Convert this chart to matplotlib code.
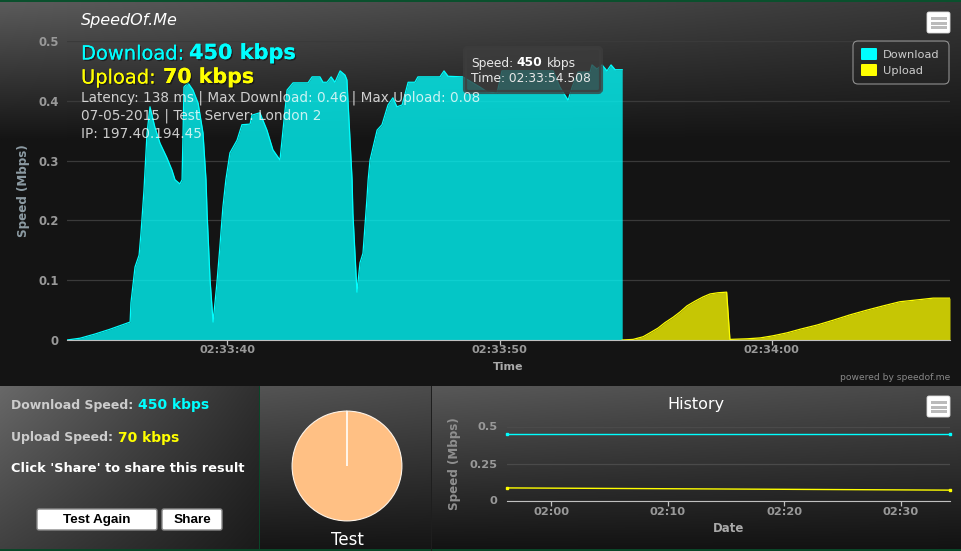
import numpy as np
import matplotlib
matplotlib.use("Agg")
import matplotlib.pyplot as plt
import matplotlib.patheffects as pe
from matplotlib.patches import FancyBboxPatch, Rectangle

W, H = 961, 551

# seconds after 02:33:00
down_t = [34.10, 34.58, 35.13, 35.68, 36.42, 36.45, 36.60, 36.75, 36.82, 36.93, 37.04, 37.15, 37.33, 37.52, 37.77,
          37.96, 38.07, 38.25, 38.33, 38.40, 38.55, 38.73, 38.92, 39.10, 39.21, 39.25, 39.36, 39.47, 39.61, 39.72,
          39.83, 39.94, 40.09, 40.35, 40.53, 40.83, 40.90, 41.19, 41.45, 41.67, 41.93, 42.04, 42.19, 42.41,
          42.96, 43.11, 43.40, 43.51, 43.66, 43.81, 43.95, 44.14, 44.32, 44.39, 44.58, 44.61, 44.76, 44.87,
          44.98, 45.13, 45.17, 45.24, 45.50, 45.68, 45.90, 46.08, 46.23, 46.42, 46.64, 46.89, 47.00, 47.81,
          47.96, 48.11, 48.65, 49.28, 49.54, 49.91, 50.09, 51.97, 52.22, 52.52, 52.67, 52.89, 53.33, 53.40, 53.58,
          53.77, 53.95, 54.10, 54.25, 54.51]
down_v = [0, .003, .010, .018, .030, .062, .122, .142, .179, .251, .345, .39, .356, .329, .305,
          .284, .268, .261, .268, .423, .43, .418, .396, .346, .268, .212, .10, .03, .095, .156,
          .222, .268, .313, .334, .36, .361, .376, .38, .351, .318, .301, .351, .418, .43,
          .43, .44, .44, .431, .431, .44, .431, .45, .443, .435, .268, .212, .08, .129,
          .145, .239, .268, .301, .351, .36, .393, .405, .39, .393, .431, .431, .44, .44,
          .45, .441, .44, .423, .415, .413, .45, .45, .423, .401, .423, .448, .448, .46, .453,
          .46, .45, .46, .452, .452]
up_t = [54.51, 54.91, 55.28, 55.53, 55.83, 56.08, 56.38, 56.64, 56.89, 57.19, 57.48, 57.74, 58.03, 58.35, 58.47,
        59.10, 59.58, 60.05, 60.57, 61.05, 61.67, 62.26, 62.88, 63.51, 64.10, 64.72, 65.34, 65.94, 66.56]
up_v = [0, .001, .0055, .012, .020, .029, .038, .047, .057, .065, .072, .077, .079, .08, .001,
        .002, .0035, .007, .012, .018, .025, .033, .042, .050, .057, .064, .067, .070, .070]
main_ticks = [40, 50, 60]
main_ticklabels = ["02:33:40", "02:33:50", "02:34:00"]
main_yticks = [0, 0.1, 0.2, 0.3, 0.4, 0.5]
main_ylabels = ["0", "0.1", "0.2", "0.3", "0.4", "0.5"]

# minutes after 00:00
hist_t = [116.2, 154.2]
hist_down = [0.45, 0.45]
hist_up = [0.085, 0.07]
hist_ticks = [120, 130, 140, 150]
hist_ticklabels = ["02:00", "02:10", "02:20", "02:30"]
hist_yticks = [0, 0.25, 0.5]
hist_ylabels = ["0", "0.25", "0.5"]

pie_vals = [99.95, 0.05]


def px_axes(fig, l, t, r, b, z=1):
    ax = fig.add_axes([l / W, 1 - b / H, (r - l) / W, (b - t) / H], zorder=z)
    ax.patch.set_alpha(0)
    return ax


def grad(img, x0, x1, y0, y1, c00, c10, c01, c11):
    # bilinear grey gradient, corners are tl, tr, bl, br
    u = np.linspace(0, 1, x1 - x0)[None, :]
    v = np.linspace(0, 1, y1 - y0)[:, None]
    img[y0:y1, x0:x1] = (c00 * (1 - u) * (1 - v) + c10 * u * (1 - v) + c01 * (1 - u) * v + c11 * u * v)[:, :, None] / 255


fig = plt.figure(figsize=(W / 100, H / 100), dpi=100)

# background
bg = np.full((H, W, 3), 20 / 255)
grad(bg, 0, W, 0, 140, 92, 56, 20, 20)
grad(bg, 0, 259, 386, H, 104, 48, 64, 26)
grad(bg, 260, 431, 386, H, 84, 76, 20, 20)
grad(bg, 432, W, 386, H, 88, 72, 18, 18)
bg[0:2, :] = np.array([10, 80, 45]) / 255
bg[H - 2:, :] = np.array([10, 70, 40]) / 255
bg[386:, 259] = np.array([10, 70, 40]) / 255
bg[386:, 431] = np.array([30, 30, 30]) / 255
ax_bg = fig.add_axes([0, 0, 1, 1], zorder=0)
ax_bg.imshow(bg, aspect="auto", extent=(0, W, H, 0), interpolation="nearest")
ax_bg.axis("off")

# main chart
ax = px_axes(fig, 67, 41, 950, 340)
ax.fill_between(down_t, down_v, color="#00ffff", alpha=0.76, lw=0, zorder=2)
ax.plot(down_t, down_v, color="#00ffff", lw=0.9, zorder=3)
ax.fill_between(up_t, up_v, color="#ffff00", alpha=0.76, lw=0, zorder=2)
ax.plot(up_t, up_v, color="#ffff00", lw=0.9, zorder=3)
ax.set_xlim(34.10, 66.56)
ax.set_ylim(0, 0.5)
ax.set_xticks(main_ticks, main_ticklabels)
ax.set_yticks(main_yticks, main_ylabels)
ax.grid(axis="y", color="#3a3a3a", lw=0.9, zorder=1)
ax.set_axisbelow(True)
for s in ["top", "left", "right"]:
    ax.spines[s].set_visible(False)
ax.spines["bottom"].set_color("#c0c0c0")
ax.spines["bottom"].set_zorder(4)
ax.tick_params(axis="x", colors="#c0c0c0", length=3.6, width=0.9, pad=0, labelcolor="#999999", labelsize=8.1)
ax.tick_params(axis="y", length=0, pad=6, labelcolor="#999999", labelsize=8.4)
for t in ax.get_xticklabels() + ax.get_yticklabels():
    t.set_fontweight("bold")
ax.set_xlabel("Time", color="#aaaaaa", fontsize=8, fontweight="bold", labelpad=5)
ax.set_ylabel("Speed (Mbps)", color="#8c9ba3", fontsize=8.6, fontweight="bold", labelpad=6)

# history chart
ax2 = px_axes(fig, 507, 426.5, 950, 500.5)
ax2.plot(hist_t, hist_down, color="#00ffff", lw=1, marker="s", ms=1.7, clip_on=False, zorder=3)
ax2.plot(hist_t, hist_up, color="#ffff00", lw=1, marker="s", ms=1.5, clip_on=False, zorder=3)
ax2.set_xlim(hist_t[0], hist_t[1])
ax2.set_ylim(0, 0.5)
ax2.set_xticks(hist_ticks, hist_ticklabels)
ax2.set_yticks(hist_yticks, hist_ylabels)
ax2.grid(axis="y", color="#4a4a4a", lw=0.9, zorder=1)
ax2.set_axisbelow(True)
for s in ["top", "left", "right"]:
    ax2.spines[s].set_visible(False)
ax2.spines["bottom"].set_color("#c0c0c0")
ax2.tick_params(axis="x", colors="#c0c0c0", length=3.6, width=0.9, pad=1, labelcolor="#999999", labelsize=8.2)
ax2.tick_params(axis="y", length=0, pad=7, labelcolor="#999999", labelsize=8.2)
for t in ax2.get_xticklabels() + ax2.get_yticklabels():
    t.set_fontweight("bold")
ax2.set_xlabel("Date", color="#aaaaaa", fontsize=8.5, fontweight="bold", labelpad=4)
ax2.set_ylabel("Speed (Mbps)", color="#8f8f8f", fontsize=8.6, fontweight="bold", labelpad=6)

# pie
ax3 = px_axes(fig, 291, 410, 403, 522)
ax3.pie(pie_vals, colors=["#ffc084", "#ffc084"], startangle=90, counterclock=False, radius=1,
        wedgeprops=dict(edgecolor="#fff4e8", linewidth=0.8))
ax3.set_xlim(-1.02, 1.02)
ax3.set_ylim(-1.02, 1.02)

# overlay in pixel coordinates
ov = fig.add_axes([0, 0, 1, 1], zorder=3)
ov.patch.set_alpha(0)
ov.set_xlim(0, W)
ov.set_ylim(H, 0)
ov.axis("off")

shadow = [pe.withSimplePatchShadow(offset=(1, -1), shadow_rgbFace="black", alpha=0.45), pe.Normal()]


def label(x, y, s, **kw):
    kw.setdefault("va", "center")
    return ov.text(x, y, s, **kw)


label(81, 20, "SpeedOf.Me", color="white", fontsize=11.5, style="italic")
label(81, 54, "Download:", color="#00ffff", fontsize=14, path_effects=shadow)
label(189, 53, "450 kbps", color="#00ffff", fontsize=15, fontweight="bold", path_effects=shadow)
label(81, 78, "Upload:", color="#ffff00", fontsize=14, path_effects=shadow)
label(163, 77, "70 kbps", color="#ffff00", fontsize=14.8, fontweight="bold", path_effects=shadow)
info_kw = dict(color="white", alpha=0.78, fontsize=9.8)
label(81, 98, "Latency: 138 ms | Max Download: 0.46 | Max Upload: 0.08", **info_kw)
label(81, 116, "07-05-2015 | Test Server: London 2", **info_kw)
label(81, 134, "IP: 197.40.194.45", **info_kw)

# tooltip
ov.add_patch(FancyBboxPatch((465, 48), 136, 44, boxstyle="round,pad=0,rounding_size=3", fc="#3d3d3d", ec="#3d3d3d",
                            lw=3, alpha=0.78))
label(471, 63, "Speed:", color="#e8e8e8", fontsize=8.8)
label(516, 63, "450", color="white", fontsize=8.8, fontweight="bold")
label(547, 63, "kbps", color="#e8e8e8", fontsize=8.8)
label(471, 79, "Time: 02:33:54.508", color="#e8e8e8", fontsize=8.8)

# legend
ov.add_patch(FancyBboxPatch((857, 45), 88, 35, boxstyle="round,pad=4,rounding_size=5", fc="none", ec="#909090", lw=0.8))
ov.add_patch(FancyBboxPatch((861, 48), 16, 12, boxstyle="round,pad=0,rounding_size=1", fc="#00ffff", ec="none"))
ov.add_patch(FancyBboxPatch((861, 64), 16, 12, boxstyle="round,pad=0,rounding_size=1", fc="#ffff00", ec="none"))
label(883, 55, "Download", color="#cccccc", fontsize=8.2)
label(883, 71, "Upload", color="#cccccc", fontsize=8.2)

label(950, 378, "powered by speedof.me", color="#888888", fontsize=6.6, ha="right")

# menu buttons
for top in [12, 396]:
    ov.add_patch(FancyBboxPatch((927, top), 23, 21, boxstyle="round,pad=0,rounding_size=2", fc="white", ec="#dddddd", lw=0.6))
    for dy in [5, 9.5, 14]:
        ov.add_patch(Rectangle((931, top + dy), 16, 3, fc="#bbbbbb", ec="none"))

# bottom left panel
label(11, 405, "Download Speed:", color="#cccccc", fontsize=9, fontweight="bold")
label(138, 405, "450 kbps", color="#00ffff", fontsize=10, fontweight="bold")
label(11, 438, "Upload Speed:", color="#cccccc", fontsize=9, fontweight="bold")
label(118, 438, "70 kbps", color="#ffff00", fontsize=10, fontweight="bold")
label(11, 469, "Click 'Share' to share this result", color="white", fontsize=9.3, fontweight="bold")

for x0, x1, s in [(37, 157, "Test Again"), (162, 222, "Share")]:
    ov.add_patch(FancyBboxPatch((x0, 509), x1 - x0, 21, boxstyle="round,pad=0,rounding_size=2", fc="white", ec="#888888", lw=1))
    ov.text((x0 + x1) / 2, 520, s, color="black", fontsize=9.7, fontweight="bold", family="Liberation Sans", ha="center", va="center")

label(347, 540, "Test", color="white", fontsize=12, ha="center")
label(696, 405, "History", color="white", fontsize=11.5, ha="center")

fig.savefig("out.png", dpi=100)
